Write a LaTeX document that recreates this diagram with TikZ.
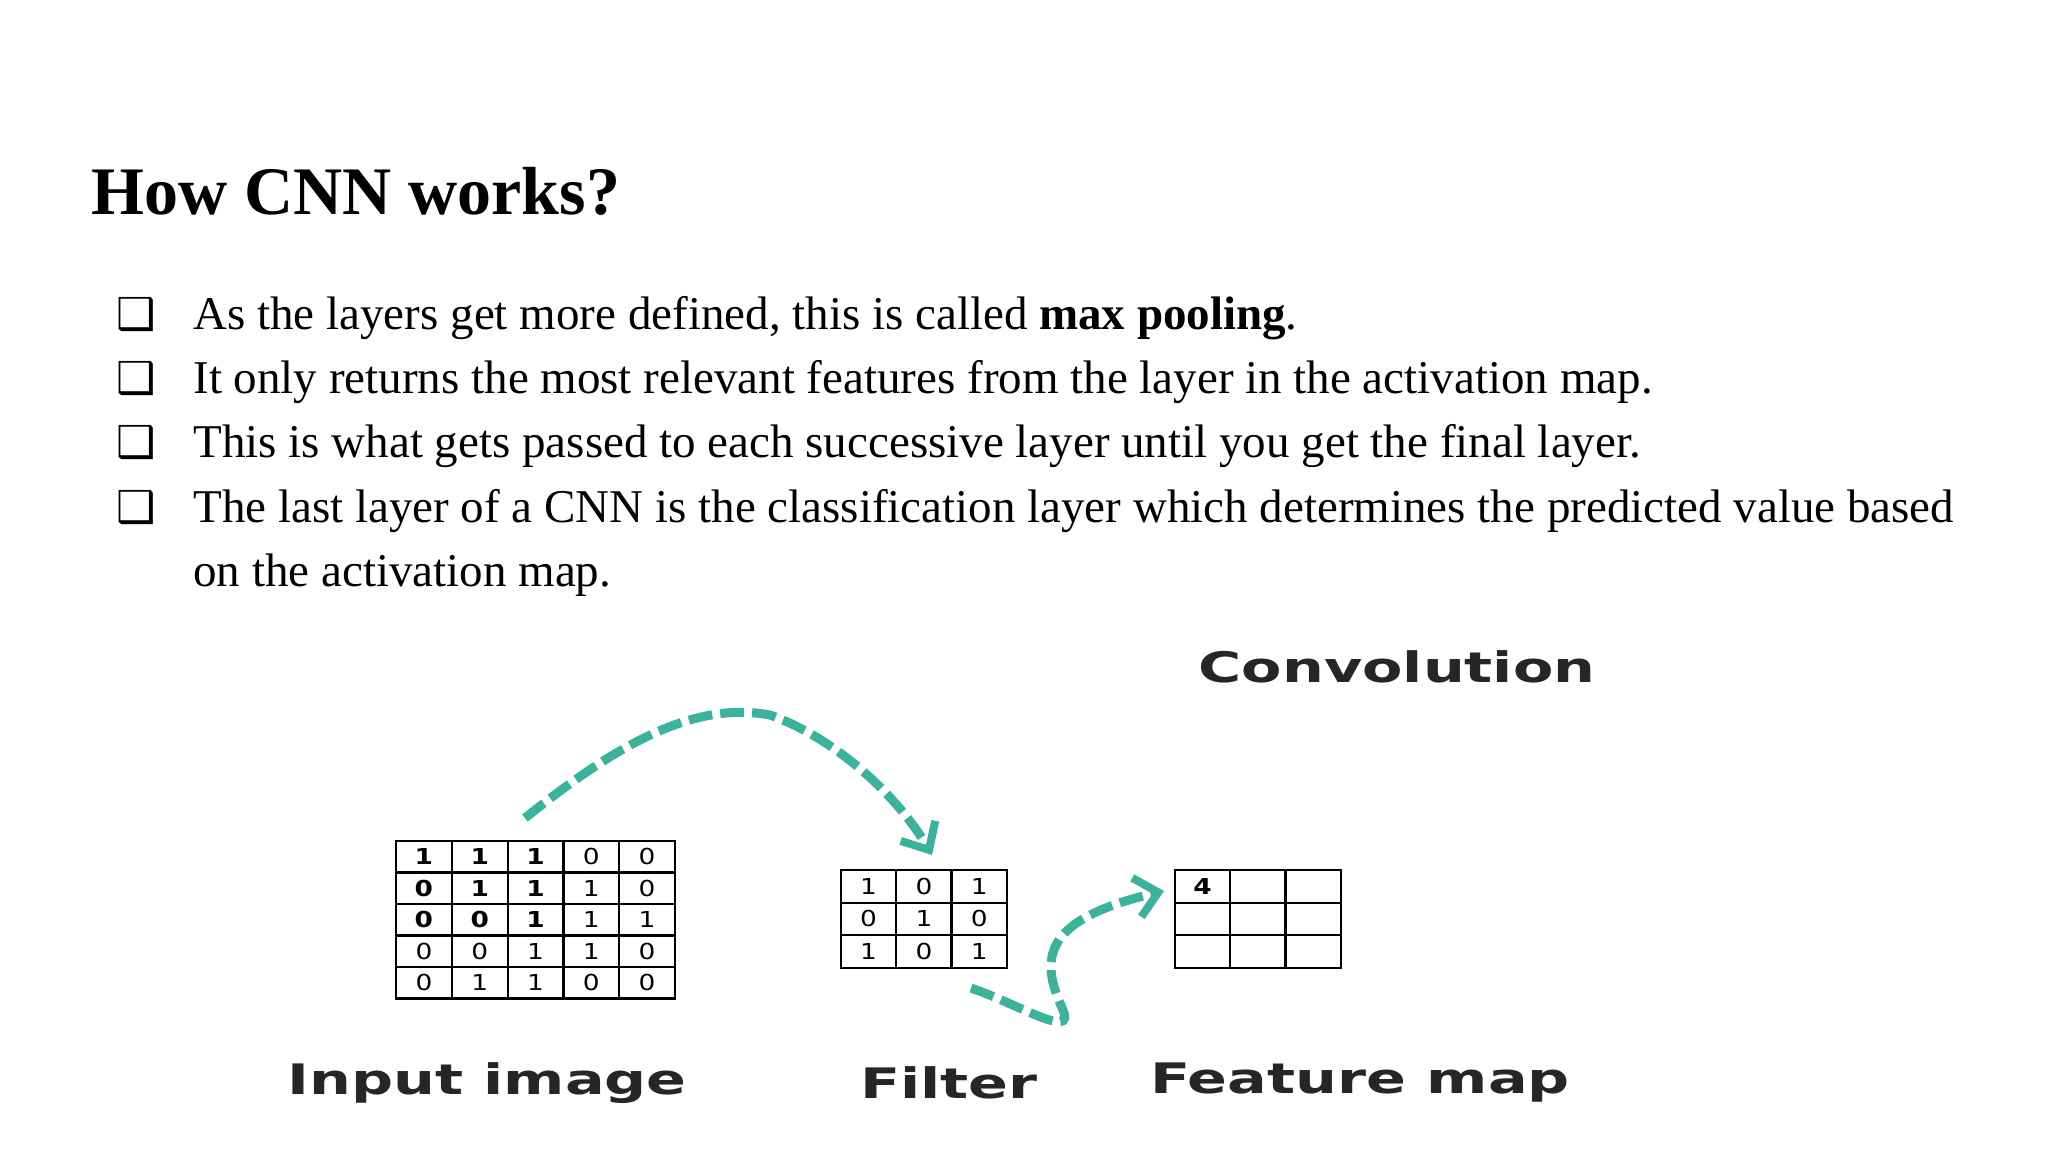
\documentclass[tikz,border=0pt]{standalone}
\usepackage{fontspec}
\setmainfont{Liberation Serif}
\newfontfamily\lbl[FakeStretch=1.4]{DejaVu Sans}
\newfontfamily\dig[FakeStretch=1.2]{DejaVu Sans}
\newfontfamily\bsym{DejaVu Sans}
\usetikzlibrary{arrows.meta}
\definecolor{arrc}{HTML}{3BB39C}
\begin{document}
\begin{tikzpicture}[x=0.5pt,y=-0.5pt,
  bul/.style={anchor=base west,font=\fontsize{23.5}{26}\selectfont,inner sep=0},
  bx/.style={anchor=base,font=\bsym\fontsize{22}{24}\selectfont,inner sep=0},
  lab/.style={font=\lbl\fontsize{21}{24}\selectfont\bfseries,text=black!85},
  cell/.style={draw,line width=1.1pt,minimum width=27.9pt,minimum height=15.75pt,inner sep=0,font=\dig\fontsize{11}{12}\selectfont},
  fcell/.style={draw,line width=1.1pt,minimum width=27.6pt,minimum height=16.3pt,inner sep=0,font=\dig\fontsize{11}{12}\selectfont},
  arr/.style={draw=arrc,line width=4.5pt,dash pattern=on 12pt off 4pt,-{Straight Barb[length=11pt,width=20pt,line width=4pt]}}]
\useasboundingbox (0,0) rectangle (2048,1152);
\node[anchor=base west,font=\fontsize{34}{40}\selectfont\bfseries,inner sep=0] (title) at (91,214) {How CNN works?};
\foreach \y/\n in {329/b1,393/b2,457/b3,522/b4}{\node[bx] (\n) at (136,\y) {❑};}
\node[bul] (t1) at (193,329) {As the layers get more defined, this is called \textbf{max pooling}.};
\node[bul] (t2) at (193,393) {It only returns the most relevant features from the layer in the activation map.};
\node[bul] (t3) at (193,457) {This is what gets passed to each successive layer until you get the final layer.};
\node[bul] (t4) at (193,522) {The last layer of a CNN is the classification layer which determines the predicted value based};
\node[bul] (t5) at (193,586) {on the activation map.};
\node[lab] (conv) at (1397,667) {Convolution};
\node[lab] (lin) at (487,1083) {Input image};
\node[lab] (lf) at (949,1083) {Filter};
\node[lab] (lfm) at (1360,1083) {Feature map};
% input grid
\foreach \r/\row in {0/{\textbf{1},\textbf{1},\textbf{1},0,0},1/{\textbf{0},\textbf{1},\textbf{1},1,0},2/{\textbf{0},\textbf{0},\textbf{1},1,1},3/{0,0,1,1,0},4/{0,1,1,0,0}}{
  \foreach \v [count=\c from 0] in \row {
    \node[cell] (in\r\c) at (396+27.9+\c*55.8,841+15.75+\r*31.5) {\v};}}
% filter
\foreach \r/\row in {0/{1,0,1},1/{0,1,0},2/{1,0,1}}{
  \foreach \v [count=\c from 0] in \row {
    \node[fcell] (f\r\c) at (841+27.6+\c*55.3,870+16.3+\r*32.6) {\v};}}
% feature map
\foreach \r/\row in {0/{\textbf{4},{},{}},1/{{},{},{}},2/{{},{},{}}}{
  \foreach \v [count=\c from 0] in \row {
    \node[fcell] (m\r\c) at (1175+27.6+\c*55.3,870+16.3+\r*32.6) {\v};}}
\coordinate (s1) at (525,818);
\coordinate (s2) at (971,988);
\draw[arr] (s1) .. controls (610,750) and (690,700) .. (770,715) .. controls (840,740) and (900,800) .. (932,855);
\draw[arr] (s2) .. controls (1020,1005) and (1075,1040) .. (1063,1010) .. controls (1040,960) and (1040,920) .. (1164,891);
\end{tikzpicture}
\end{document}
